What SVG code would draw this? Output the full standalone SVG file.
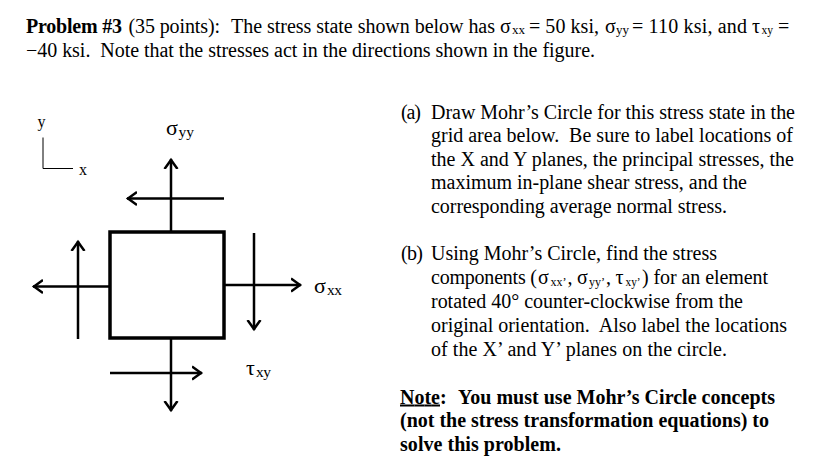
<svg xmlns="http://www.w3.org/2000/svg" width="816" height="467" viewBox="0 0 816 467">
<style>
text{font-family:"Liberation Serif","Times New Roman",serif;font-size:20px;fill:#000;white-space:pre}
.b{font-weight:bold}
text.sub{font-size:13.500px}
text.lbl{font-size:22px}
text.lsub{font-size:15.500px}
text.ax{font-size:16px}
.arr{fill:none;stroke:#000;stroke-width:2.500}
</style>
<defs>
<marker id="ah" viewBox="-10 -8 12 16" refX="0" refY="0" markerWidth="12" markerHeight="16" markerUnits="userSpaceOnUse" orient="auto">
<path d="M-10,-6.500 L-1,0 L-10,6.500" fill="none" stroke="#000" stroke-width="2.500"/>
</marker>
</defs>
<rect width="816" height="467" fill="#fff"/>
<g id="problem-text">
<text class="b" x="26" y="32.500" textLength="96">Problem #3</text>
<text x="128.500" y="32.500" textLength="91.500">(35 points):</text>
<text x="231" y="32.500" textLength="264">The stress state shown below has</text>
<text x="500" y="32.500">σ</text><text class="sub" x="512" y="34" textLength="13" lengthAdjust="spacingAndGlyphs">xx</text>
<text x="529" y="32.500" textLength="70">= 50 ksi,</text>
<text x="605" y="32.500">σ</text><text class="sub" x="616" y="34" textLength="13" lengthAdjust="spacingAndGlyphs">yy</text>
<text x="632" y="32.500" textLength="115">= 110 ksi, and</text>
<text x="752" y="32.500">τ</text><text class="sub" x="761.500" y="34" textLength="11.500" lengthAdjust="spacingAndGlyphs">xy</text>
<text x="778" y="32.500" textLength="11">=</text>
<text x="26" y="56.500" textLength="569">−40 ksi.  Note that the stresses act in the directions shown in the figure.</text>
</g>
<g id="part-a">
<text x="401" y="118.500" textLength="20">(a)</text>
<text x="431" y="118.500" textLength="364">Draw Mohr’s Circle for this stress state in the</text>
<text x="431" y="142" textLength="362">grid area below.  Be sure to label locations of</text>
<text x="431" y="166" textLength="363">the X and Y planes, the principal stresses, the</text>
<text x="431" y="189" textLength="316">maximum in-plane shear stress, and the</text>
<text x="431" y="212.500" textLength="296">corresponding average normal stress.</text>
</g>
<g id="part-b">
<text x="401" y="260" textLength="22">(b)</text>
<text x="431" y="260" textLength="286">Using Mohr’s Circle, find the stress</text>
<text x="431" y="284" textLength="106">components (</text>
<text x="538" y="284">σ</text><text class="sub" x="550.500" y="285.500" textLength="16" lengthAdjust="spacingAndGlyphs">xx’</text><text x="567.500" y="284">,</text>
<text x="577" y="284">σ</text><text class="sub" x="589" y="285.500" textLength="16" lengthAdjust="spacingAndGlyphs">yy’</text><text x="606" y="284">,</text>
<text x="615.500" y="284">τ</text><text class="sub" x="625.500" y="285.500" textLength="15" lengthAdjust="spacingAndGlyphs">xy’</text>
<text x="642" y="284" textLength="126">) for an element</text>
<text x="431" y="308" textLength="312">rotated 40° counter-clockwise from the</text>
<text x="431" y="332" textLength="356">original orientation.  Also label the locations</text>
<text x="431" y="355.500" textLength="296">of the X’ and Y’ planes on the circle.</text>
</g>
<g id="note">
<text class="b" x="400" y="403.500" textLength="40" text-decoration="underline">Note</text>
<text class="b" x="440" y="403.500">:</text>
<text class="b" x="458" y="403.500" textLength="317">You must use Mohr’s Circle concepts</text>
<text class="b" x="400" y="427" textLength="369">(not the stress transformation equations) to</text>
<text class="b" x="400" y="451" textLength="161">solve this problem.</text>
</g>
<g id="axes">
<path d="M43,137.500V168.500H73" fill="none" stroke="#000" stroke-width="1"/>
<text class="ax" x="37.500" y="127">y</text>
<text class="ax" x="79" y="175">x</text>
</g>
<g id="element">
<rect x="110" y="232" width="114" height="106" fill="none" stroke="#000" stroke-width="3.500"/>
</g>
<g id="connectors">
<path class="arr" marker-end="url(#ah)" d="M171,232V159"/>
<path class="arr" marker-end="url(#ah)" d="M224,198.500H127"/>
<path class="arr" marker-end="url(#ah)" d="M110,286.500H33"/>
<path class="arr" marker-end="url(#ah)" d="M78,339V241"/>
<path class="arr" marker-end="url(#ah)" d="M224,285H301"/>
<path class="arr" marker-end="url(#ah)" d="M254,233V330"/>
<path class="arr" marker-end="url(#ah)" d="M171,338V411"/>
<path class="arr" marker-end="url(#ah)" d="M110,373H202"/>
</g>
<g id="label-syy"><text class="lbl" x="166" y="135">σ</text><text class="lsub" x="178.500" y="137" textLength="15.500">yy</text></g>
<g id="label-sxx"><text class="lbl" x="314" y="293">σ</text><text class="lsub" x="327" y="295" textLength="15">xx</text></g>
<g id="label-txy"><text class="lbl" x="246" y="375">τ</text><text class="lsub" x="256" y="377" textLength="15">xy</text></g>
</svg>
